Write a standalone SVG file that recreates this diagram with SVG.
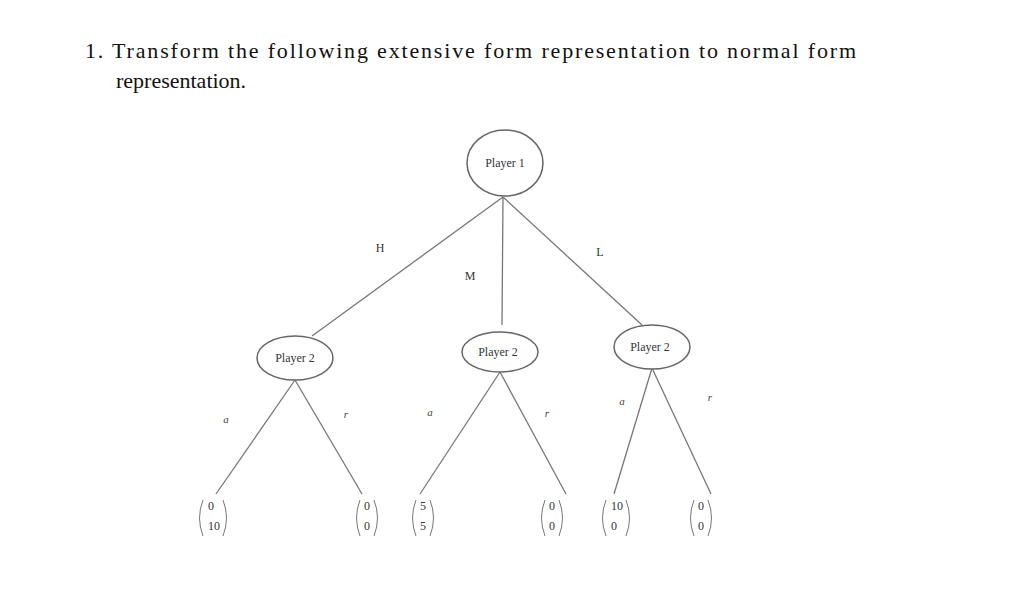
<svg xmlns="http://www.w3.org/2000/svg" width="1026" height="600" viewBox="0 0 1026 600">
<style>
.h{font-family:"Liberation Serif",serif;font-size:22px;fill:#111}
.n{font-family:"Liberation Serif",serif;font-size:12px;fill:#333;text-anchor:middle}
.l{font-family:"Liberation Serif",serif;font-size:11px;fill:#444;text-anchor:middle;font-style:italic}
.e{fill:#fff;stroke:#666;stroke-width:1.5}
.c line{stroke:#777;stroke-width:1.3}
.b{fill:none;stroke:#777;stroke-width:1}
</style>
<rect width="1026" height="600" fill="#fff"/>
<text class="h" x="85" y="58" textLength="771">1. Transform the following extensive form representation to normal form</text>
<text class="h" x="116" y="88">representation.</text>
<g class="c" id="connectors">
<line x1="503" y1="197" x2="312" y2="336"/>
<line x1="503" y1="197" x2="502" y2="325"/>
<line x1="503" y1="197" x2="642" y2="325"/>
<line x1="295" y1="380" x2="216" y2="494"/>
<line x1="295" y1="380" x2="362" y2="494"/>
<line x1="500" y1="372" x2="420" y2="494"/>
<line x1="500" y1="372" x2="566" y2="494"/>
<line x1="652" y1="368" x2="614" y2="494"/>
<line x1="652" y1="368" x2="711" y2="494"/>
</g>
<g id="labels">
<text class="n" x="380" y="252">H</text>
<text class="n" x="470" y="280">M</text>
<text class="n" x="600" y="256">L</text>
<text class="l" x="226" y="423">a</text>
<text class="l" x="346" y="418">r</text>
<text class="l" x="430" y="416">a</text>
<text class="l" x="547" y="417">r</text>
<text class="l" x="622" y="405">a</text>
<text class="l" x="710" y="401">r</text>
</g>
<g id="p1"><ellipse class="e" cx="505" cy="163" rx="38" ry="33"/><text class="n" x="505" y="167">Player 1</text></g>
<g id="p2h"><ellipse class="e" cx="295" cy="358" rx="38" ry="22"/><text class="n" x="295" y="362">Player 2</text></g>
<g id="p2m"><ellipse class="e" cx="500" cy="352" rx="38" ry="20"/><text class="n" x="498" y="356">Player 2</text></g>
<g id="p2l"><ellipse class="e" cx="652" cy="347" rx="38" ry="22"/><text class="n" x="650" y="351">Player 2</text></g>
<g id="payoffs">
<g transform="translate(209,0)"><path class="b" d="M-6,500 Q-13,518 -6,536 M14,500 Q21,518 14,536"/><text class="n" x="-1" y="510" style="text-anchor:start">0</text><text class="n" x="-1" y="530" style="text-anchor:start">10</text></g>
<g transform="translate(366,0)"><path class="b" d="M-6,500 Q-13,518 -6,536 M8,500 Q15,518 8,536"/><text class="n" x="1" y="510">0</text><text class="n" x="1" y="530">0</text></g>
<g transform="translate(422,0)"><path class="b" d="M-6,500 Q-13,518 -6,536 M8,500 Q15,518 8,536"/><text class="n" x="1" y="510">5</text><text class="n" x="1" y="530">5</text></g>
<g transform="translate(551,0)"><path class="b" d="M-6,500 Q-13,518 -6,536 M8,500 Q15,518 8,536"/><text class="n" x="1" y="510">0</text><text class="n" x="1" y="530">0</text></g>
<g transform="translate(612,0)"><path class="b" d="M-6,500 Q-13,518 -6,536 M14,500 Q21,518 14,536"/><text class="n" x="-1" y="510" style="text-anchor:start">10</text><text class="n" x="-1" y="530" style="text-anchor:start">0</text></g>
<g transform="translate(700,0)"><path class="b" d="M-6,500 Q-13,518 -6,536 M8,500 Q15,518 8,536"/><text class="n" x="1" y="510">0</text><text class="n" x="1" y="530">0</text></g>
</g>
</svg>
